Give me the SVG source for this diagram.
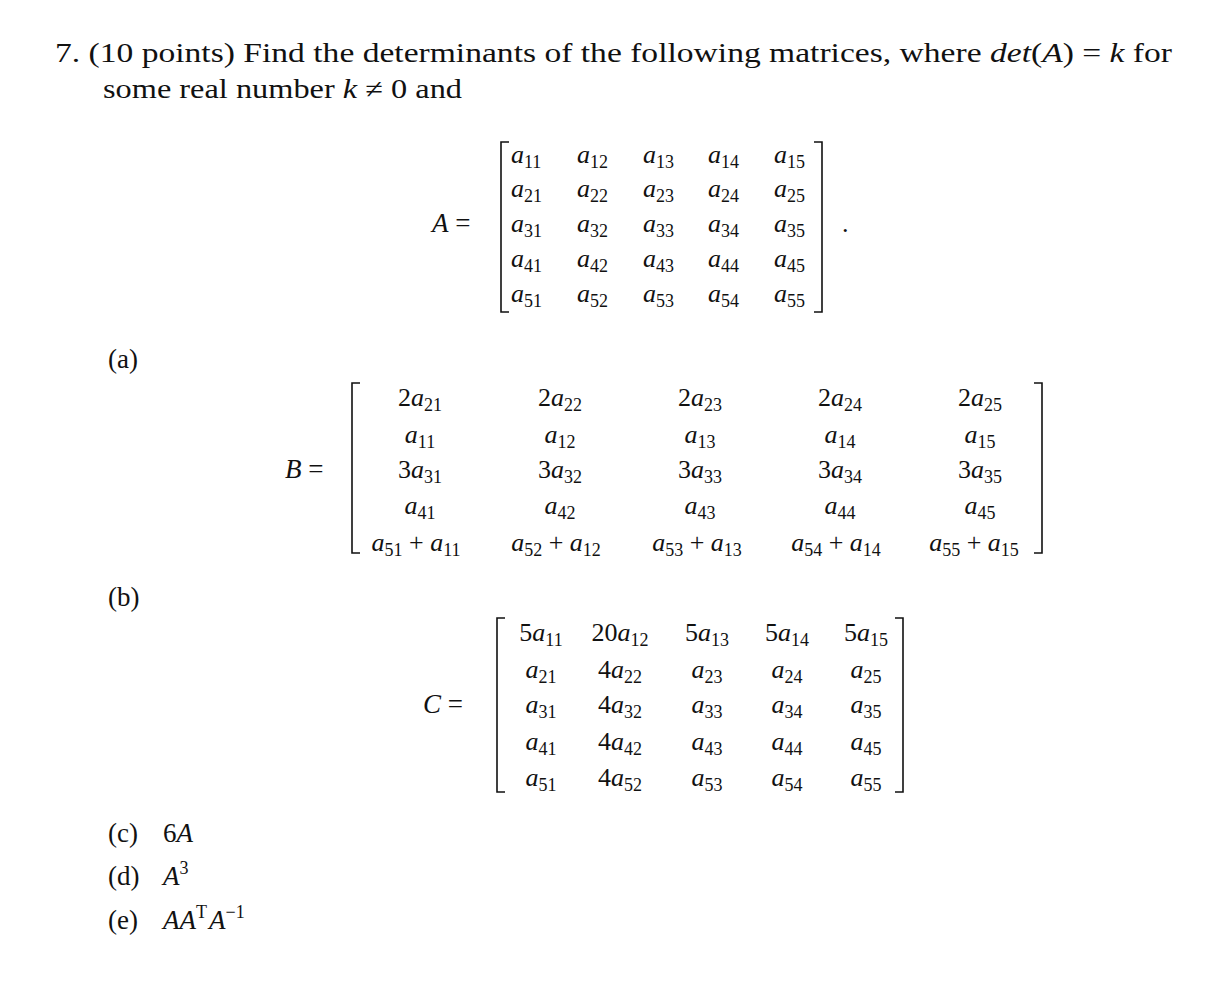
<svg xmlns="http://www.w3.org/2000/svg" width="1220" height="1004" viewBox="0 0 1220 1004">
<style>
text{font-family:"Liberation Serif","DejaVu Serif",serif;fill:#111}
.t{font-size:27px}
.m{font-size:26px}
.c{text-anchor:middle}
.it{font-style:italic}
.s{font-size:18px;font-style:normal}
.br{fill:none;stroke:#111;stroke-width:1.6}
</style>
<rect width="1220" height="1004" fill="#fff"/>
<text class="t" x="55" y="62" textLength="1117" lengthAdjust="spacingAndGlyphs">7. (10 points) Find the determinants of the following matrices, where <tspan class="it">det</tspan>(<tspan class="it">A</tspan>) = <tspan class="it">k</tspan> for</text>
<text class="t" x="103" y="98" textLength="359" lengthAdjust="spacingAndGlyphs">some real number <tspan class="it">k</tspan> ≠ 0 and</text>

<g id="matA">
<text class="t" x="432" y="232"><tspan class="it">A</tspan> =</text>
<path class="br" d="M509 142H501V312H509M814 142H822V312H814"/>
<text class="m" x="842" y="232">.</text>
<g class="m">
<text x="511" y="163"><tspan class="it">a</tspan><tspan class="s" dy="5">11</tspan></text>
<text x="577" y="163"><tspan class="it">a</tspan><tspan class="s" dy="5">12</tspan></text>
<text x="643" y="163"><tspan class="it">a</tspan><tspan class="s" dy="5">13</tspan></text>
<text x="708" y="163"><tspan class="it">a</tspan><tspan class="s" dy="5">14</tspan></text>
<text x="774" y="163"><tspan class="it">a</tspan><tspan class="s" dy="5">15</tspan></text>
<text x="511" y="197"><tspan class="it">a</tspan><tspan class="s" dy="5">21</tspan></text>
<text x="577" y="197"><tspan class="it">a</tspan><tspan class="s" dy="5">22</tspan></text>
<text x="643" y="197"><tspan class="it">a</tspan><tspan class="s" dy="5">23</tspan></text>
<text x="708" y="197"><tspan class="it">a</tspan><tspan class="s" dy="5">24</tspan></text>
<text x="774" y="197"><tspan class="it">a</tspan><tspan class="s" dy="5">25</tspan></text>
<text x="511" y="232"><tspan class="it">a</tspan><tspan class="s" dy="5">31</tspan></text>
<text x="577" y="232"><tspan class="it">a</tspan><tspan class="s" dy="5">32</tspan></text>
<text x="643" y="232"><tspan class="it">a</tspan><tspan class="s" dy="5">33</tspan></text>
<text x="708" y="232"><tspan class="it">a</tspan><tspan class="s" dy="5">34</tspan></text>
<text x="774" y="232"><tspan class="it">a</tspan><tspan class="s" dy="5">35</tspan></text>
<text x="511" y="267"><tspan class="it">a</tspan><tspan class="s" dy="5">41</tspan></text>
<text x="577" y="267"><tspan class="it">a</tspan><tspan class="s" dy="5">42</tspan></text>
<text x="643" y="267"><tspan class="it">a</tspan><tspan class="s" dy="5">43</tspan></text>
<text x="708" y="267"><tspan class="it">a</tspan><tspan class="s" dy="5">44</tspan></text>
<text x="774" y="267"><tspan class="it">a</tspan><tspan class="s" dy="5">45</tspan></text>
<text x="511" y="302"><tspan class="it">a</tspan><tspan class="s" dy="5">51</tspan></text>
<text x="577" y="302"><tspan class="it">a</tspan><tspan class="s" dy="5">52</tspan></text>
<text x="643" y="302"><tspan class="it">a</tspan><tspan class="s" dy="5">53</tspan></text>
<text x="708" y="302"><tspan class="it">a</tspan><tspan class="s" dy="5">54</tspan></text>
<text x="774" y="302"><tspan class="it">a</tspan><tspan class="s" dy="5">55</tspan></text>
</g>
</g>

<text class="t" x="108" y="368">(a)</text>
<g id="matB">
<text class="t" x="285" y="478"><tspan class="it">B</tspan> =</text>
<path class="br" d="M360 383H352V553H360M1034 383H1042V553H1034"/>
<g class="m c">
<text x="420" y="406">2<tspan class="it">a</tspan><tspan class="s" dy="5">21</tspan></text>
<text x="560" y="406">2<tspan class="it">a</tspan><tspan class="s" dy="5">22</tspan></text>
<text x="700" y="406">2<tspan class="it">a</tspan><tspan class="s" dy="5">23</tspan></text>
<text x="840" y="406">2<tspan class="it">a</tspan><tspan class="s" dy="5">24</tspan></text>
<text x="980" y="406">2<tspan class="it">a</tspan><tspan class="s" dy="5">25</tspan></text>
<text x="420" y="443"><tspan class="it">a</tspan><tspan class="s" dy="5">11</tspan></text>
<text x="560" y="443"><tspan class="it">a</tspan><tspan class="s" dy="5">12</tspan></text>
<text x="700" y="443"><tspan class="it">a</tspan><tspan class="s" dy="5">13</tspan></text>
<text x="840" y="443"><tspan class="it">a</tspan><tspan class="s" dy="5">14</tspan></text>
<text x="980" y="443"><tspan class="it">a</tspan><tspan class="s" dy="5">15</tspan></text>
<text x="420" y="478">3<tspan class="it">a</tspan><tspan class="s" dy="5">31</tspan></text>
<text x="560" y="478">3<tspan class="it">a</tspan><tspan class="s" dy="5">32</tspan></text>
<text x="700" y="478">3<tspan class="it">a</tspan><tspan class="s" dy="5">33</tspan></text>
<text x="840" y="478">3<tspan class="it">a</tspan><tspan class="s" dy="5">34</tspan></text>
<text x="980" y="478">3<tspan class="it">a</tspan><tspan class="s" dy="5">35</tspan></text>
<text x="420" y="514"><tspan class="it">a</tspan><tspan class="s" dy="5">41</tspan></text>
<text x="560" y="514"><tspan class="it">a</tspan><tspan class="s" dy="5">42</tspan></text>
<text x="700" y="514"><tspan class="it">a</tspan><tspan class="s" dy="5">43</tspan></text>
<text x="840" y="514"><tspan class="it">a</tspan><tspan class="s" dy="5">44</tspan></text>
<text x="980" y="514"><tspan class="it">a</tspan><tspan class="s" dy="5">45</tspan></text>
<text x="416" y="551"><tspan class="it">a</tspan><tspan class="s" dy="5">51</tspan><tspan dy="-5"> + </tspan><tspan class="it">a</tspan><tspan class="s" dy="5">11</tspan></text>
<text x="556" y="551"><tspan class="it">a</tspan><tspan class="s" dy="5">52</tspan><tspan dy="-5"> + </tspan><tspan class="it">a</tspan><tspan class="s" dy="5">12</tspan></text>
<text x="697" y="551"><tspan class="it">a</tspan><tspan class="s" dy="5">53</tspan><tspan dy="-5"> + </tspan><tspan class="it">a</tspan><tspan class="s" dy="5">13</tspan></text>
<text x="836" y="551"><tspan class="it">a</tspan><tspan class="s" dy="5">54</tspan><tspan dy="-5"> + </tspan><tspan class="it">a</tspan><tspan class="s" dy="5">14</tspan></text>
<text x="974" y="551"><tspan class="it">a</tspan><tspan class="s" dy="5">55</tspan><tspan dy="-5"> + </tspan><tspan class="it">a</tspan><tspan class="s" dy="5">15</tspan></text>
</g>
</g>

<text class="t" x="108" y="606">(b)</text>
<g id="matC">
<text class="t" x="423" y="713"><tspan class="it">C</tspan> =</text>
<path class="br" d="M505 618H497V792H505M895 618H903V792H895"/>
<g class="m c">
<text x="541" y="641">5<tspan class="it">a</tspan><tspan class="s" dy="5">11</tspan></text>
<text x="620" y="641">20<tspan class="it">a</tspan><tspan class="s" dy="5">12</tspan></text>
<text x="707" y="641">5<tspan class="it">a</tspan><tspan class="s" dy="5">13</tspan></text>
<text x="787" y="641">5<tspan class="it">a</tspan><tspan class="s" dy="5">14</tspan></text>
<text x="866" y="641">5<tspan class="it">a</tspan><tspan class="s" dy="5">15</tspan></text>
<text x="541" y="678"><tspan class="it">a</tspan><tspan class="s" dy="5">21</tspan></text>
<text x="620" y="678">4<tspan class="it">a</tspan><tspan class="s" dy="5">22</tspan></text>
<text x="707" y="678"><tspan class="it">a</tspan><tspan class="s" dy="5">23</tspan></text>
<text x="787" y="678"><tspan class="it">a</tspan><tspan class="s" dy="5">24</tspan></text>
<text x="866" y="678"><tspan class="it">a</tspan><tspan class="s" dy="5">25</tspan></text>
<text x="541" y="713"><tspan class="it">a</tspan><tspan class="s" dy="5">31</tspan></text>
<text x="620" y="713">4<tspan class="it">a</tspan><tspan class="s" dy="5">32</tspan></text>
<text x="707" y="713"><tspan class="it">a</tspan><tspan class="s" dy="5">33</tspan></text>
<text x="787" y="713"><tspan class="it">a</tspan><tspan class="s" dy="5">34</tspan></text>
<text x="866" y="713"><tspan class="it">a</tspan><tspan class="s" dy="5">35</tspan></text>
<text x="541" y="750"><tspan class="it">a</tspan><tspan class="s" dy="5">41</tspan></text>
<text x="620" y="750">4<tspan class="it">a</tspan><tspan class="s" dy="5">42</tspan></text>
<text x="707" y="750"><tspan class="it">a</tspan><tspan class="s" dy="5">43</tspan></text>
<text x="787" y="750"><tspan class="it">a</tspan><tspan class="s" dy="5">44</tspan></text>
<text x="866" y="750"><tspan class="it">a</tspan><tspan class="s" dy="5">45</tspan></text>
<text x="541" y="786"><tspan class="it">a</tspan><tspan class="s" dy="5">51</tspan></text>
<text x="620" y="786">4<tspan class="it">a</tspan><tspan class="s" dy="5">52</tspan></text>
<text x="707" y="786"><tspan class="it">a</tspan><tspan class="s" dy="5">53</tspan></text>
<text x="787" y="786"><tspan class="it">a</tspan><tspan class="s" dy="5">54</tspan></text>
<text x="866" y="786"><tspan class="it">a</tspan><tspan class="s" dy="5">55</tspan></text>
</g>
</g>

<text class="t" x="108" y="842">(c)<tspan x="163">6</tspan><tspan class="it">A</tspan></text>
<text class="t" x="108" y="885">(d)<tspan x="163" class="it">A</tspan><tspan class="s" dy="-11">3</tspan></text>
<text class="t" x="108" y="929">(e)<tspan x="163" class="it">AA</tspan><tspan class="s it" dy="-11">T</tspan><tspan class="it" dy="11" dx="2">A</tspan><tspan class="s" dy="-11">−1</tspan></text>
</svg>
